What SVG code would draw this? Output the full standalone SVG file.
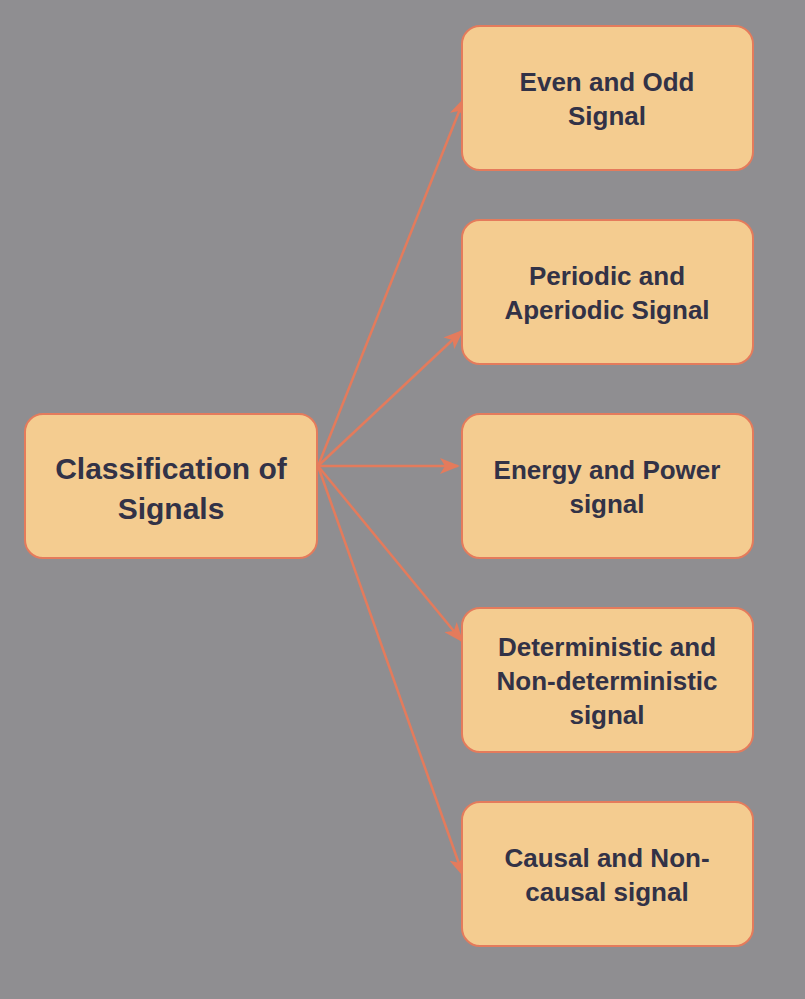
<svg xmlns="http://www.w3.org/2000/svg" width="805" height="999" viewBox="0 0 805 999">
<style>
.n{fill:#f4cc90;stroke:#e47b5c;stroke-width:2}
.t{font-family:"Liberation Sans",Arial,sans-serif;font-weight:bold;fill:#323247;text-anchor:middle}
.c{stroke:#e47b5c;stroke-width:2.5;fill:none;marker-end:url(#a)}
</style>
<defs><marker id="a" viewBox="0 0 20 16" refX="18" refY="8" markerWidth="8" markerHeight="6.4" orient="auto" markerUnits="strokeWidth"><path d="M0,0 L20,8 L0,16 L5,8 Z" fill="#e47b5c"/></marker></defs>
<rect width="805" height="999" fill="#8f8e91"/>
<g id="connectors">
<path class="c" d="M318,466 L464,99"/>
<path class="c" d="M318,466 L462,331"/>
<path class="c" d="M318,466 L458,466"/>
<path class="c" d="M318,466 L462,641"/>
<path class="c" d="M318,466 L463,875"/>
</g>
<g id="root"><rect class="n" x="25" y="414" width="292" height="144" rx="18"/>
<text class="t" font-size="30" x="171" y="479">Classification of</text><text class="t" font-size="30" x="171" y="519">Signals</text></g>
<g id="n1"><rect class="n" x="462" y="26" width="291" height="144" rx="18"/>
<text class="t" font-size="26" x="607" y="91">Even and Odd</text><text class="t" font-size="26" x="607" y="125">Signal</text></g>
<g id="n2"><rect class="n" x="462" y="220" width="291" height="144" rx="18"/>
<text class="t" font-size="26" x="607" y="285">Periodic and</text><text class="t" font-size="26" x="607" y="319">Aperiodic Signal</text></g>
<g id="n3"><rect class="n" x="462" y="414" width="291" height="144" rx="18"/>
<text class="t" font-size="26" x="607" y="479">Energy and Power</text><text class="t" font-size="26" x="607" y="513">signal</text></g>
<g id="n4"><rect class="n" x="462" y="608" width="291" height="144" rx="18"/>
<text class="t" font-size="26" x="607" y="656">Deterministic and</text><text class="t" font-size="26" x="607" y="690">Non-deterministic</text><text class="t" font-size="26" x="607" y="724">signal</text></g>
<g id="n5"><rect class="n" x="462" y="802" width="291" height="144" rx="18"/>
<text class="t" font-size="26" x="607" y="867">Causal and Non-</text><text class="t" font-size="26" x="607" y="901">causal signal</text></g>
</svg>
